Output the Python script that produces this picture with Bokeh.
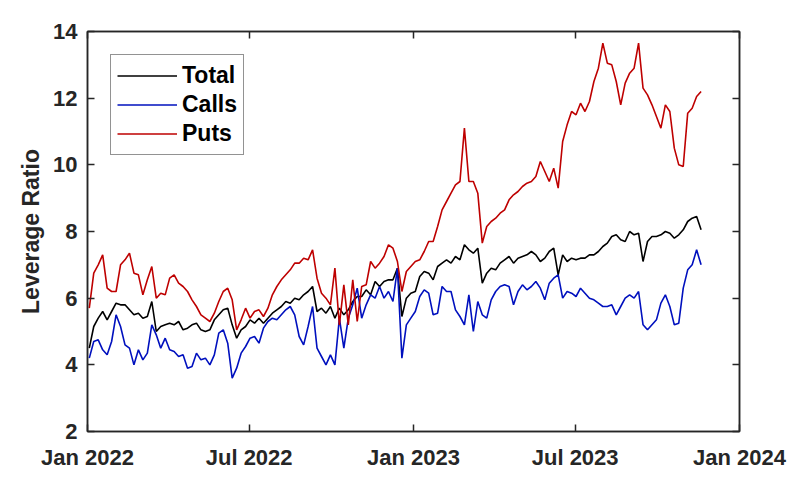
import pandas as pd
from bokeh.plotting import figure
from bokeh.models import (ColumnDataSource, Range1d, FixedTicker, LinearAxis,
                          DatetimeAxis, Legend, LegendItem)
from bokeh.embed import file_html
from bokeh.resources import INLINE

# ---- data ----
dates = pd.date_range("2022-01-03", periods=138, freq="5D")

total = [4.5, 5.15, 5.4, 5.6, 5.35, 5.6, 5.85, 5.8, 5.8, 5.65,
         5.5, 5.55, 5.4, 5.45, 5.9, 5.0, 5.15, 5.2, 5.25, 5.2,
         5.3, 5.05, 5.1, 5.2, 5.25, 5.05, 5.0, 5.05, 5.35, 5.5,
         5.65, 5.7, 5.2, 4.8, 5.05, 5.15, 5.35, 5.25, 5.4, 5.25,
         5.4, 5.55, 5.65, 5.75, 5.9, 5.85, 6.0, 5.95, 6.1, 6.2,
         6.35, 5.6, 5.7, 5.55, 5.75, 5.4, 5.7, 5.5, 5.65, 5.9,
         6.05, 6.05, 6.25, 6.1, 6.5, 6.35, 6.5, 6.55, 6.55, 6.9,
         5.45, 6.0, 6.15, 6.2, 6.65, 6.8, 6.75, 6.55, 6.95, 7.05,
         7.15, 7.05, 7.25, 7.15, 7.6, 7.45, 7.35, 7.5, 6.45, 6.75,
         6.9, 6.85, 7.05, 7.15, 7.25, 7.05, 7.2, 7.25, 7.3, 7.4,
         7.3, 7.1, 7.2, 7.4, 7.5, 6.7, 7.3, 7.1, 7.2, 7.15,
         7.2, 7.2, 7.3, 7.3, 7.4, 7.55, 7.65, 7.85, 7.9, 7.75,
         7.7, 8.0, 7.9, 7.95, 7.1, 7.7, 7.85, 7.85, 7.9, 8.0,
         7.95, 7.8, 7.9, 8.05, 8.3, 8.4, 8.45, 8.05]

calls = [4.2, 4.7, 4.75, 4.45, 4.3, 4.7, 5.5, 5.15, 4.6, 4.5,
         4.0, 4.45, 4.15, 4.35, 5.2, 4.9, 4.5, 4.8, 4.45, 4.4,
         4.25, 4.3, 3.9, 3.95, 4.35, 4.15, 4.2, 4.0, 4.3, 4.95,
         5.05, 4.65, 3.6, 3.9, 4.35, 4.55, 4.8, 4.85, 4.65, 5.1,
         5.3, 5.4, 5.35, 5.5, 5.65, 5.75, 5.5, 4.85, 4.6, 5.15,
         5.75, 4.5, 4.25, 4.0, 4.3, 4.0, 5.4, 4.5, 5.4, 5.8,
         6.3, 5.4, 5.8, 6.1, 6.0, 6.35, 6.0, 6.2, 5.9, 6.9,
         4.2, 5.2, 5.4, 5.6, 6.05, 6.25, 6.15, 5.5, 5.55, 6.35,
         6.2, 6.2, 5.65, 5.45, 5.2, 6.1, 5.0, 5.9, 5.5, 5.4,
         5.95, 6.2, 6.35, 6.4, 6.35, 5.8, 6.2, 6.4, 6.25, 6.35,
         6.5, 6.3, 5.95, 6.45, 6.6, 6.7, 6.0, 6.2, 6.15, 6.05,
         6.3, 6.15, 6.0, 5.95, 5.85, 5.75, 5.75, 5.8, 5.5, 5.75,
         6.0, 6.1, 6.0, 6.2, 5.2, 5.05, 5.2, 5.35, 5.85, 6.1,
         5.75, 5.2, 5.25, 6.3, 6.85, 7.0, 7.45, 7.0]

puts = [5.7, 6.75, 7.0, 7.3, 6.3, 6.2, 6.2, 7.0, 7.15, 7.35,
        6.75, 6.7, 6.1, 6.55, 6.95, 6.0, 6.15, 6.1, 6.6, 6.7,
        6.45, 6.35, 6.2, 5.95, 5.75, 5.5, 5.4, 5.3, 5.55, 5.9,
        6.2, 6.3, 5.95, 5.05, 5.35, 5.7, 5.4, 5.6, 5.65, 5.45,
        5.7, 6.1, 6.35, 6.55, 6.7, 6.85, 7.05, 7.05, 7.2, 7.15,
        7.45, 6.6, 6.15, 6.0, 5.8, 6.9, 5.2, 6.4, 5.2, 6.55,
        5.3, 6.35, 6.4, 7.1, 6.9, 7.05, 7.25, 7.6, 7.5, 7.1,
        6.2, 6.8, 6.95, 7.1, 7.15, 7.4, 7.7, 7.7, 8.15, 8.65,
        8.9, 9.15, 9.4, 9.5, 11.1, 9.5, 9.5, 9.15, 7.65, 8.15,
        8.3, 8.4, 8.55, 8.65, 8.95, 9.1, 9.2, 9.35, 9.45, 9.5,
        9.65, 10.1, 9.8, 9.5, 9.9, 9.3, 10.7, 11.2, 11.6, 11.5,
        11.85, 11.6, 11.9, 12.5, 12.9, 13.65, 13.05, 13.0, 12.5, 11.8,
        12.45, 12.75, 12.9, 13.65, 12.3, 12.1, 11.8, 11.45, 11.1, 11.8,
        11.6, 10.5, 10.0, 9.95, 11.55, 11.7, 12.05, 12.2]

series_names = ["Total", "Calls", "Puts"]
series_colors = ["#000000", "#0010BE", "#BE0000"]

tick_dates = ["2022-01-01", "2022-07-01", "2023-01-01", "2023-07-01", "2024-01-01"]
tick_labels = ["Jan 2022", "Jul 2022", "Jan 2023", "Jul 2023", "Jan 2024"]
y_ticks = [2, 4, 6, 8, 10, 12, 14]

# ---- figure ----
FONT = "Liberation Sans"
TXT = "#262626"

x_ms = [float(pd.Timestamp(d).value // 10**6) for d in tick_dates]

p = figure(output_backend="svg", toolbar_location=None,
           x_axis_type="datetime",
           frame_width=652, frame_height=400,
           min_border_left=87, min_border_right=50,
           min_border_top=31, min_border_bottom=45,
           x_range=Range1d(pd.Timestamp(tick_dates[0]), pd.Timestamp(tick_dates[-1])),
           y_range=Range1d(2, 14),
           background_fill_color="white", border_fill_color="white")
p.grid.visible = False
p.outline_line_color = TXT
p.outline_line_width = 1.5

src = ColumnDataSource(dict(date=dates, total=total, calls=calls, puts=puts))
renderers = []
for col, color in zip(["total", "calls", "puts"], series_colors):
    r = p.line("date", col, source=src, line_color=color, line_width=1.6)
    renderers.append(r)

def style_axis(ax, show_labels=True):
    ax.axis_line_color = TXT
    ax.axis_line_width = 1.5
    ax.major_tick_line_color = TXT
    ax.major_tick_line_width = 1.5
    ax.major_tick_in = 7
    ax.major_tick_out = 0
    ax.minor_tick_line_color = None
    if show_labels:
        ax.major_label_text_font = FONT
        ax.major_label_text_font_style = "bold"
        ax.major_label_text_font_size = "22px"
        ax.major_label_text_color = TXT
    else:
        ax.major_label_text_font_size = "1px"
        ax.major_label_text_color = None
        ax.major_label_standoff = 0

# bottom axis
xa = p.xaxis[0]
xa.ticker = FixedTicker(ticks=x_ms)
xa.major_label_overrides = {t: lab for t, lab in zip(x_ms, tick_labels)}
style_axis(xa)
xa.major_label_standoff = 13

# left axis
ya = p.yaxis[0]
ya.ticker = FixedTicker(ticks=y_ticks)
style_axis(ya)
ya.major_label_standoff = 10
ya.axis_label = "Leverage Ratio"
ya.axis_label_text_font = FONT
ya.axis_label_text_font_style = "bold"
ya.axis_label_text_font_size = "23px"
ya.axis_label_text_color = TXT
ya.axis_label_standoff = 6

# box axes (top / right) with inward ticks
top = DatetimeAxis(ticker=FixedTicker(ticks=x_ms))
style_axis(top, show_labels=False)
p.add_layout(top, "above")
right = LinearAxis(ticker=FixedTicker(ticks=y_ticks))
style_axis(right, show_labels=False)
p.add_layout(right, "right")

legend = Legend(items=[LegendItem(label=n, renderers=[r]) for n, r in zip(series_names, renderers)],
                location="top_left")
legend.margin = 23
legend.padding = 6
legend.spacing = 0
legend.label_height = 29
legend.glyph_height = 29
legend.glyph_width = 60
legend.label_standoff = 5
legend.label_text_font = FONT
legend.label_text_font_style = "bold"
legend.label_text_font_size = "23px"
legend.label_text_color = "#000000"
legend.border_line_color = TXT
legend.border_line_width = 1.2
legend.background_fill_color = "white"
legend.background_fill_alpha = 1.0
p.add_layout(legend, "center")

open("out.html", "w").write(file_html(p, INLINE))
